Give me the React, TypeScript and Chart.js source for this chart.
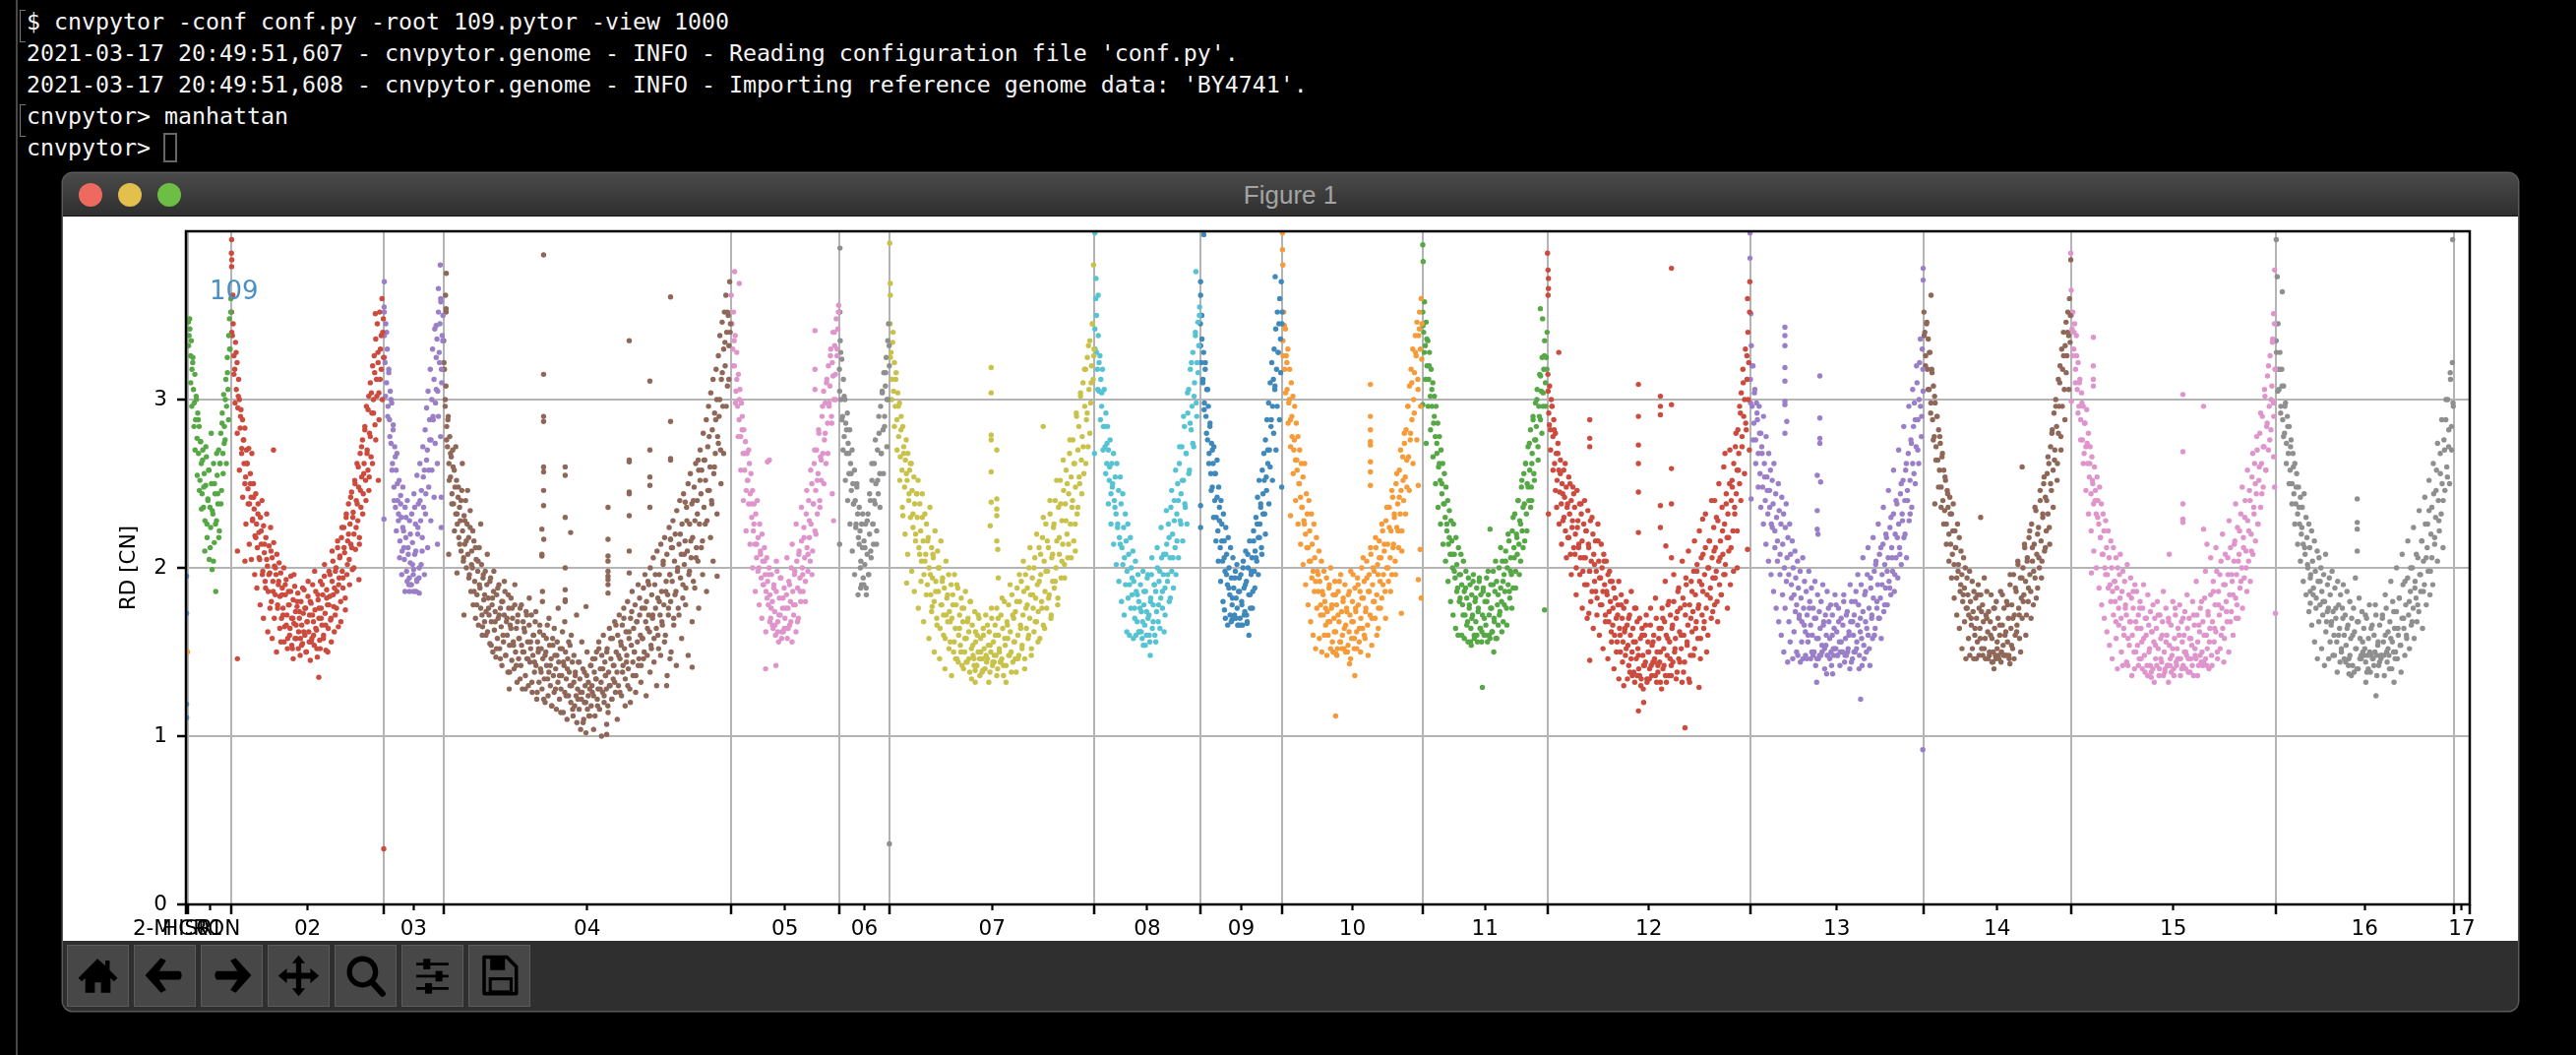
import React, { useEffect, useRef } from "react";
import { Chart, registerables } from "chart.js";
Chart.register(...registerables);

// Chromosomes in plotting order (lengths in kb)
const chromNames = ["2-MICRON","HISR","01","02","03","04","05","06","07","08","09","10","11","12","13","14","15","16","17"];
const chromLengths = [6,5,230,813,316,1531,576,270,1090,562,439,745,666,1078,924,784,1091,948,85];
const chromColors = ["#3f88bb","#f59b3a","#55a845","#cc4a3e","#9a7fc8","#8f6758","#df95cc","#8f8f8f","#c8c24a","#56c3d3","#3f88bb","#f59b3a","#55a845","#cc4a3e","#9a7fc8","#8f6758","#df95cc","#8f8f8f","#c8c24a"];
const yTicks = [0,1,2,3];

// Read-depth (CN x 100) per sampled bin, in genome order
const rd01 = [346,338,342,326,335,318,322,306,298,315,288,300,277,292,268,284,252,275,262,244,270,236,256,228,249,266,218,241,258,205,236,224,250,199,232,262,215,244,186,228,255,238,270,222,262,280,246,292,268,303,284,276,312,296,325,306,338,348,330,360];
const rd02 = [352,338,345,326,318,334,306,322,295,312,300,283,294,271,288,276,262,283,254,270,262,247,271,238,256,242,268,229,250,235,219,244,226,212,238,221,205,230,214,240,198,225,209,192,218,232,201,186,213,197,224,180,206,192,215,201,184,196,208,176,190,203,183,197,170,188,176,200,165,184,193,172,158,186,178,164,195,170,152,181,167,189,174,158,177,185,162,170,148,180,166,155,173,187,160,176,150,168,183,162,172,145,179,158,190,168,154,175,186,163,147,181,170,157,192,176,166,184,160,195,173,151,187,178,164,198,183,169,156,192,204,177,188,172,200,186,212,165,194,207,180,218,198,188,224,209,175,230,196,216,238,205,226,214,245,199,233,220,252,211,240,262,228,248,218,268,236,254,276,244,262,284,252,296,270,258,302,280,310,266,292,320,300,326,285,336,312,345,322,304,352,330,318,360,340,325];
const rd03 = [338,322,345,310,330,296,318,288,305,274,298,262,285,248,272,236,258,268,240,228,252,216,243,230,210,248,222,205,236,218,198,240,212,190,228,203,190,232,215,196,244,208,226,186,255,220,238,200,262,228,246,210,272,236,258,282,244,295,270,305,258,288,318,276,300,330,288,312,342,298,325,336,305,352,328,345,360,318,338,350];
const rd04 = [335,318,296,308,284,272,290,262,278,254,266,244,270,238,258,248,232,252,226,242,218,236,228,210,246,222,204,231,214,240,200,226,208,218,196,224,186,210,200,178,216,192,170,205,184,198,166,212,188,176,202,160,194,181,168,198,174,190,162,182,172,155,194,168,178,150,186,163,174,147,184,158,170,190,152,176,165,142,180,156,172,186,148,168,160,138,176,154,166,182,145,170,156,140,178,150,164,132,172,146,158,176,142,154,128,168,150,162,136,174,146,156,130,166,144,152,172,126,148,160,138,168,142,122,156,150,132,162,140,152,128,146,160,134,120,150,142,166,124,138,154,130,146,118,158,136,126,148,140,116,156,132,144,122,152,128,136,162,114,142,126,150,134,110,146,124,138,154,120,130,144,112,132,118,138,124,108,128,144,116,134,104,122,126,140,110,120,130,102,136,116,124,112,128,142,118,130,146,124,138,112,134,150,122,128,156,116,140,132,148,126,160,120,144,136,128,152,118,138,164,130,146,122,158,134,142,168,126,150,138,160,130,172,146,156,124,166,142,176,152,134,162,148,180,140,158,128,170,154,186,144,164,150,178,136,168,156,190,146,172,160,142,176,158,188,150,196,168,180,148,192,172,162,200,154,184,170,206,158,190,176,164,210,182,152,196,172,214,186,166,202,178,218,160,192,208,184,172,224,196,180,212,192,228,170,204,220,186,234,198,176,214,240,194,208,226,182,244,202,216,188,236,210,250,196,226,256,206,238,218,192,248,228,262,212,240,204,258,226,270,244,258,216,280,236,264,252,288,228,272,296,246,260,304,240,282,312,256,292,268,318,300,278,326,290,338,270,312,346,296,330,352,320,362,340,308,350,332,370,345];
const rd05 = [362,345,330,352,320,338,305,328,296,315,288,306,278,298,290,268,282,258,275,246,268,252,238,262,244,256,230,246,222,238,214,232,206,240,218,200,226,210,194,220,204,190,212,196,186,206,192,178,200,184,170,196,180,164,190,174,160,186,198,168,156,182,172,194,162,176,162,188,170,164,184,158,176,192,166,180,200,156,186,172,196,178,162,204,188,170,210,194,180,216,200,186,224,206,192,232,212,198,240,218,204,226,250,210,238,262,222,246,270,232,256,280,240,266,252,290,268,305,276,298,262,312,286,320,296,308,330,290,322,340,300,332,315,348,326,342,356];
const rd06 = [318,335,300,324,290,312,278,300,286,268,292,274,256,282,262,246,270,250,238,258,240,226,248,232,218,236,222,204,226,212,194,216,202,226,184,208,232,196,220,240,206,252,226,214,262,238,250,222,270,244,280,256,296,268,305,282,316,290,308,325,300,335,345,320];
const rd07 = [345,328,312,334,305,322,296,316,288,304,278,298,266,290,258,284,272,248,264,276,252,268,240,258,230,262,246,224,254,238,216,244,230,252,212,238,222,204,244,216,196,232,208,226,190,218,200,236,184,212,194,206,180,222,192,170,210,186,200,164,216,178,194,172,188,158,204,182,168,196,174,156,190,170,184,150,196,164,178,146,188,160,172,154,182,142,168,176,150,186,158,144,170,162,138,180,152,166,148,146,174,156,142,160,150,170,136,158,146,146,164,152,140,172,144,146,154,162,138,150,170,142,156,148,166,148,176,140,160,152,144,172,146,164,136,180,154,142,168,158,178,148,162,150,184,144,170,156,174,138,188,160,148,180,166,192,154,172,186,146,196,164,178,158,200,170,184,152,194,176,162,206,182,168,190,174,212,158,196,180,218,166,204,186,226,176,198,212,184,232,170,206,192,224,188,240,200,216,178,236,208,252,194,228,214,246,202,238,258,220,206,244,268,226,254,236,276,216,262,248,292,232,270,284,250,302,264,278,310,256,296,318,288,325,272,306,335,298,320,345,312,330];
const rd08 = [342,360,328,318,338,305,326,312,296,318,284,306,272,292,262,284,270,252,276,244,262,250,268,240,254,232,262,226,246,218,254,238,212,244,224,206,232,216,198,226,208,190,218,200,184,210,192,176,204,186,168,196,180,162,190,174,158,198,178,166,186,160,194,170,172,156,182,196,164,178,190,160,186,174,200,168,192,164,182,206,176,196,162,188,208,214,192,226,180,206,236,198,220,188,240,212,196,232,250,206,262,228,244,272,216,252,284,236,268,226,292,306,258,318,282,296,328,272,310,340,298,322,346,332,355];
const rd09 = [345,322,336,310,328,298,318,290,306,276,296,268,284,256,274,248,262,272,240,256,230,264,222,248,236,212,240,226,204,232,216,198,224,208,190,218,200,184,212,194,178,206,188,172,198,182,202,166,186,194,170,196,180,166,204,188,174,210,192,168,200,184,216,176,196,206,186,222,198,210,230,204,242,218,252,226,236,212,258,244,268,232,276,254,288,262,298,270,310,284,322,296,312,330,308,342,318,352,328,345,360,336,370,352];
const rd10 = [335,352,318,342,326,306,330,298,318,288,310,278,302,270,296,264,286,258,278,250,270,242,262,236,254,228,262,220,244,232,212,240,222,204,232,214,198,226,206,192,218,198,186,210,192,178,204,186,172,198,180,166,194,174,160,188,168,200,176,156,184,170,192,162,178,152,186,168,156,196,174,160,182,152,190,166,176,150,184,162,172,198,158,180,168,152,188,174,162,194,178,156,186,170,200,164,182,192,158,176,204,166,186,196,172,208,154,190,180,198,170,212,184,202,176,216,192,206,182,222,196,210,186,228,200,214,192,236,206,222,196,242,214,230,204,250,224,238,212,258,232,246,222,266,240,274,254,282,248,296,266,308,276,318,288,330,300,316,338,326,346,312,338,352,330,360,345];
const rd11 = [352,340,358,332,346,320,335,312,328,302,318,296,310,286,302,278,296,268,286,260,278,252,270,244,262,238,256,230,248,222,240,214,234,208,228,216,200,226,208,194,218,202,188,212,196,182,208,190,178,204,186,172,198,182,168,194,176,190,164,184,172,196,160,180,168,188,156,176,192,164,184,156,172,188,160,180,166,194,156,184,172,158,190,176,162,198,170,186,158,192,178,166,200,174,188,180,204,168,196,186,210,176,200,190,216,182,206,196,222,188,212,232,198,220,208,240,214,228,204,248,222,236,256,216,262,232,250,272,240,258,282,248,268,290,256,276,298,284,306,272,296,315,288,305,325,296,318,335,310,325,340];
const rd12 = [315,292,308,282,300,296,278,288,262,280,268,252,274,258,245,264,238,250,228,258,242,222,248,236,218,254,232,208,240,224,248,212,236,220,200,246,228,214,238,206,232,216,198,226,240,206,222,190,234,212,198,228,204,186,220,208,192,216,198,182,226,204,194,178,214,200,186,208,190,172,204,184,196,168,198,180,162,192,176,188,160,182,170,156,178,192,164,150,184,170,156,176,162,148,180,166,154,142,172,160,186,150,164,138,176,156,146,168,152,140,170,158,134,164,148,142,160,144,172,132,156,150,140,166,142,154,144,160,146,136,170,150,142,158,144,132,164,176,140,152,168,136,160,148,178,136,156,172,142,164,144,180,150,158,170,138,186,146,162,176,152,132,182,160,144,172,190,156,166,134,178,148,192,162,174,198,152,184,168,202,158,178,192,146,206,172,186,164,196,212,176,184,160,200,216,188,170,206,194,224,178,212,198,180,228,204,190,216,184,236,208,196,226,202,244,218,232,210,250,190,240,252,222,262,236,272,244,258,282,268,250,292,304,278,318,290,300,330,282,312,340,322,352];
const rd13 = [312,332,296,320,286,306,276,298,288,268,296,256,280,272,248,290,262,240,278,254,232,268,246,258,226,252,238,262,222,244,230,216,250,234,208,226,242,214,232,200,224,238,206,218,196,226,208,190,216,200,184,210,194,178,204,188,172,198,182,168,206,176,192,162,186,172,156,198,180,166,188,160,176,150,192,170,158,184,146,174,164,180,154,190,168,152,172,160,186,148,168,158,178,142,172,152,164,184,152,162,148,176,156,150,170,150,166,180,144,158,148,174,152,162,140,168,180,146,160,172,150,186,156,166,178,148,162,190,142,174,154,184,168,150,196,160,176,142,188,170,158,182,198,164,204,176,190,170,208,182,158,196,214,174,202,188,218,178,206,192,224,184,212,198,232,186,220,206,238,194,226,212,244,202,232,252,218,240,258,206,246,268,228,252,276,236,262,284,298,250,272,310,288,262,322,296,278,330,305];
const rd14 = [352,340,326,345,318,336,306,328,298,318,288,308,278,298,272,290,264,282,258,274,248,266,240,258,234,252,226,246,236,220,242,214,232,208,238,202,222,212,194,226,202,218,186,210,196,180,206,188,200,176,194,184,172,198,180,166,192,174,186,160,182,170,156,190,176,164,184,152,178,168,194,158,172,186,162,174,150,168,184,158,144,176,164,148,180,152,170,146,160,186,150,166,154,176,148,162,180,156,170,146,190,164,178,152,196,172,160,186,166,204,176,158,194,182,170,200,184,212,192,172,206,180,218,196,186,226,204,178,214,194,234,208,188,224,200,240,216,204,232,250,210,242,222,256,232,262,214,272,246,282,258,292,270,300,284,262,312,296,320,278,330,318,340,306,332,346,326,352,338,360,350];
const rd15 = [365,342,352,330,345,318,338,306,322,296,312,288,304,276,296,268,286,272,294,262,280,254,272,244,266,250,238,260,246,232,254,240,226,248,218,238,208,232,222,200,228,212,196,222,206,190,216,200,186,212,192,180,206,188,200,176,196,208,170,186,198,164,192,178,172,202,158,184,168,194,182,160,176,150,190,168,186,154,172,146,180,164,156,176,190,148,170,160,142,184,166,152,174,138,162,178,156,170,146,164,180,152,136,172,158,144,168,186,150,140,176,160,142,170,154,146,166,148,180,140,158,172,144,152,164,146,178,146,168,156,142,160,174,150,148,164,146,170,138,158,154,180,136,166,148,146,172,156,142,162,176,144,150,168,144,182,146,160,152,172,140,164,184,148,168,192,156,178,162,198,146,186,172,152,204,176,164,190,158,208,180,168,196,150,184,212,174,192,160,204,216,182,196,224,170,208,188,232,200,176,218,194,240,210,186,228,204,246,192,220,254,208,236,262,216,244,270,226,252,280,236,262,290,248,272,302,258,284,314,270,296,326,282,308,336,298,345,318];
const rd16 = [335,318,345,306,328,296,318,288,308,280,298,274,290,268,284,258,276,250,268,244,262,238,256,232,248,226,242,220,236,214,244,208,230,218,200,226,212,196,222,204,188,216,198,182,210,192,206,178,200,186,172,196,180,208,168,190,176,194,184,166,198,174,160,188,170,156,192,178,164,184,150,176,190,160,172,154,186,166,146,180,158,170,142,176,162,194,152,168,140,182,158,148,174,150,164,152,144,170,148,158,178,138,148,166,146,160,150,172,136,154,142,166,148,148,172,156,136,160,176,144,152,148,168,158,140,180,150,164,150,174,146,160,182,154,138,170,190,164,148,178,158,194,172,152,186,166,200,176,158,192,182,168,206,174,196,186,216,164,204,190,226,178,212,198,234,184,220,206,190,244,214,230,258,204,240,222,268,232,250,212,276,246,288,260,300,272,250,312,284,322,296];

// Second sampling of the same chromosomes (the wider scatter round each curve)
const rd01b = [332,348,310,296,325,284,270,302,255,288,246,275,235,264,248,210,272,226,240,258,212,280,234,204,250,226,268,244,218,262,238,286,256,274,300,262,316,288,330,352];
const rd02b = [340,362,315,298,328,280,302,258,290,268,242,276,250,226,262,238,214,250,205,228,242,196,218,188,232,206,178,222,196,170,214,188,205,162,196,176,210,158,186,170,200,150,178,192,164,156,184,172,156,190,166,152,178,160,186,154,170,196,158,166,180,152,174,158,154,188,162,176,150,168,192,156,180,156,172,160,198,164,152,184,176,152,170,190,158,202,166,182,150,178,196,170,210,184,162,198,176,216,190,206,168,224,194,212,182,232,202,220,190,242,212,230,200,250,224,238,260,214,246,272,232,256,282,240,268,294,254,278,304,262,292,316,276,302,328,288,312,338,300,348];
const rd03b = [325,302,340,290,316,278,300,258,282,240,266,222,250,232,206,238,196,224,212,186,230,192,208,194,220,190,202,186,236,210,192,224,194,240,202,218,254,196,232,264,212,248,276,228,258,290,242,274,306,262,290,322,278,310,335];
const rd04b = [322,300,276,288,252,268,238,260,222,272,232,248,214,240,262,206,228,216,246,194,234,202,222,186,212,178,204,190,226,172,196,184,160,208,176,192,154,182,198,168,152,188,172,146,180,160,192,148,170,184,138,164,176,154,190,142,168,158,134,178,150,164,128,172,146,182,156,132,160,144,174,126,152,166,138,180,122,148,158,134,170,142,118,154,164,128,148,176,136,114,152,144,168,124,140,156,130,160,116,148,136,172,122,144,126,156,108,138,120,150,132,112,142,126,104,146,134,118,152,128,100,140,124,136,150,114,130,158,122,142,132,166,110,148,126,154,138,170,118,144,130,162,120,174,136,150,126,168,142,182,132,158,146,176,124,164,190,138,152,172,144,196,130,160,180,148,168,204,156,186,136,176,196,150,212,166,184,142,200,172,220,158,190,208,178,228,148,198,216,168,240,188,206,232,176,252,212,196,264,226,186,246,278,218,238,204,260,288,232,274,300,250,316,268,334,296,352,312,340];
const rd05b = [345,320,335,298,312,278,300,258,282,240,268,222,252,270,214,238,200,226,186,214,198,178,208,170,190,204,162,182,196,168,176,166,188,166,204,162,172,194,158,182,164,176,206,164,190,168,214,178,198,226,168,208,186,236,196,218,180,246,208,228,258,196,238,270,220,252,282,236,264,296,250,280,310,268,298,326,286,314,340,300,330,352];
const rd06b = [305,328,288,270,302,252,282,240,268,226,256,210,238,196,224,250,184,214,200,190,232,190,212,188,228,196,244,210,262,226,240,276,214,252,290,236,268,304,256,284,316,272,300,332];
const rd07b = [325,300,340,284,312,270,296,252,282,236,268,220,256,208,244,262,198,232,186,220,244,176,208,192,230,168,204,184,216,158,196,174,208,150,186,166,200,146,178,192,160,140,172,184,152,168,136,178,156,146,190,144,164,150,176,140,158,144,168,146,180,134,154,142,162,142,172,146,150,138,160,140,148,166,132,154,176,144,144,160,136,170,150,144,182,142,158,132,166,148,190,138,172,156,146,180,146,196,164,152,204,140,176,188,160,212,148,184,200,168,220,156,192,208,176,230,164,198,216,182,240,172,208,226,192,252,182,218,238,204,264,194,228,250,214,276,206,240,262,226,290,236,254,304,244,272,318,262,292,332,280,310,345,326];
const rd08b = [330,350,306,322,288,304,270,284,256,274,238,260,226,248,214,236,202,224,192,214,180,202,172,190,162,182,160,176,194,158,170,160,184,162,176,162,168,186,154,174,196,160,180,206,168,190,156,212,178,198,224,186,208,172,234,196,218,182,246,206,228,258,216,240,272,226,252,290,238,268,304,256,286,322,274,302,338,290,316,350];
const rd09b = [332,350,312,294,322,280,306,262,286,246,270,230,256,216,242,204,228,192,216,180,206,170,196,166,188,172,168,182,170,194,170,176,166,186,166,178,200,172,190,172,208,160,184,198,176,216,188,206,226,196,218,238,208,232,252,220,246,270,238,260,288,252,280,306,270,296,328,288,316,345];
const rd10b = [326,344,304,322,286,300,272,290,256,276,240,264,226,250,214,236,202,226,190,212,178,204,168,194,160,186,152,176,196,158,172,150,184,160,176,148,168,190,152,178,150,162,184,148,172,192,156,152,180,164,150,174,154,186,146,168,196,158,176,152,190,164,150,182,206,160,174,194,148,186,212,170,200,180,218,160,196,206,176,226,190,214,170,236,200,224,186,246,212,232,196,256,222,242,270,210,252,280,232,264,296,246,280,310,262,292,328,276,306,342,296,324];
const rd11b = [344,328,312,336,296,320,282,306,266,290,250,274,236,262,226,250,214,238,204,226,192,218,180,208,172,198,164,186,160,180,196,160,172,158,188,166,156,178,156,170,192,158,182,160,174,194,164,162,186,170,160,180,198,160,176,162,190,168,204,158,184,172,212,162,192,178,204,166,220,186,198,176,230,206,188,218,240,196,226,252,212,238,262,222,248,274,236,262,288,252,276,300,264,290,314,280,304,326,296,318];
const rd12b = [305,285,270,296,258,282,246,236,268,226,256,214,244,230,262,206,238,218,250,196,228,244,208,184,224,212,196,238,176,206,190,222,170,214,198,180,230,164,202,186,172,216,160,194,178,152,204,168,186,146,174,192,156,166,140,182,150,172,134,160,178,144,130,164,152,134,170,138,146,136,156,132,176,136,148,136,130,160,128,142,166,134,150,134,176,136,156,144,182,132,138,164,150,128,170,142,192,132,158,180,146,136,166,196,152,134,174,188,144,160,204,138,178,194,154,210,132,170,186,148,216,164,198,176,222,158,190,208,168,232,150,200,216,182,240,174,210,194,230,168,250,206,184,222,260,196,238,176,218,270,212,248,198,232,280,222,258,296,240,272,310,256,286,326,300,270];
const rd13b = [298,320,276,304,262,292,248,280,236,268,226,254,214,246,204,236,196,224,186,212,176,204,168,196,160,184,150,176,192,144,168,156,182,146,162,174,150,148,170,144,156,146,166,148,146,160,176,146,150,148,170,142,146,158,148,148,150,166,140,154,148,176,146,150,160,148,152,178,148,168,142,156,150,184,148,172,150,160,190,144,168,150,180,152,196,140,170,158,206,146,186,164,212,152,194,172,218,160,202,180,226,170,212,190,236,178,220,198,246,188,230,206,258,196,240,218,270,208,250,228,284,220,262,240,296,232,274,306,256,288,320,270,300,336,290,318];
const rd14b = [338,320,346,306,328,292,316,276,302,264,290,248,278,236,268,226,254,214,244,204,232,194,222,182,212,172,198,164,190,152,184,168,146,176,158,148,170,152,146,164,146,184,148,158,174,148,152,146,170,146,148,160,144,150,176,146,156,148,166,144,184,148,160,148,178,148,196,154,170,146,188,162,202,172,150,194,180,214,160,204,188,222,170,212,198,236,182,220,206,246,194,230,254,212,240,266,224,250,280,236,264,296,252,280,310,270,296,326,288,316,340,306,334];
const rd15b = [350,326,340,310,326,292,310,276,298,262,286,246,274,232,262,222,252,210,240,200,230,188,218,178,208,170,196,162,188,154,180,146,172,192,158,140,166,182,150,142,160,176,144,142,154,168,136,186,140,150,164,142,176,146,140,158,138,170,136,150,142,162,140,132,154,142,172,140,146,160,136,138,156,142,168,142,138,152,136,176,142,146,160,136,140,170,150,140,184,138,158,146,142,172,152,192,136,166,148,180,142,160,198,142,174,156,206,142,186,164,212,150,178,196,160,220,144,190,174,206,228,168,196,184,214,238,178,204,222,192,248,212,230,200,258,222,240,210,268,232,250,278,226,260,292,244,272,306,258,286,320,276,300,334,290,318];
const rd16b = [328,305,318,292,308,278,296,262,284,250,272,238,260,226,248,214,236,204,224,192,212,184,202,174,194,166,184,156,176,146,168,192,152,180,142,162,174,146,156,168,148,148,176,138,160,144,152,170,146,144,164,142,148,136,160,138,152,140,168,146,146,156,148,172,138,140,150,164,146,142,178,148,156,144,146,170,148,184,150,162,140,192,156,174,146,200,164,182,154,208,170,192,160,216,180,200,168,224,188,208,178,234,196,216,186,242,206,226,252,198,236,262,218,246,274,228,256,288,240,270,300,254,282,316,270,298];

// Isolated bins as [kb within chromosome, CN x 100]
const outMicron = [[3,195],[3,173],[3,119],[3,111]];
const outHisr = [[2,150]];
const out02 = [[2,395],[1,387],[3,383],[2,379],[225,270],[33,210],[73,204],[33,146],[330,146],[466,135],[812,33],[680,193],[767,351],[783,252],[733,246]];
const out03 = [[0,229],[2,370],[1,355],[2,352],[300,380],[290,366],[303,358],[278,344],[136,186],[188,185],[175,193],[158,199],[285,214],[305,242],[305,224]];
const out04 = [[534,386],[534,315],[534,290],[534,287],[534,260],[534,257],[534,246],[534,237],[525,223],[535,217],[525,208],[525,207],[528,186],[649,260],[649,255],[649,230],[649,200],[649,187],[649,181],[649,180],[678,221],[877,236],[877,217],[877,207],[877,204],[877,198],[877,195],[877,193],[877,190],[877,185],[990,335],[990,264],[990,263],[990,245],[990,244],[990,231],[990,210],[990,197],[1100,311],[1100,270],[1100,254],[1100,249],[1100,236],[1210,361],[1210,287],[1210,265],[1210,264],[1210,217],[1210,217],[1288,239],[1357,264],[1325,141],[1189,130],[1207,146],[760,177],[1458,195],[870,107],[870,101],[73,197],[110,172],[16,375],[12,362],[15,354],[15,352],[29,208],[209,165],[351,128]];
const out05 = [[448,341],[448,318],[448,306],[20,376],[45,369],[547,228],[540,244],[195,263],[205,264],[185,140],[240,142]];
const out06 = [[5,390],[5,352],[3,214],[268,36],[115,188]];
const out07 = [[0,393],[3,369],[3,362],[540,319],[540,304],[540,279],[540,276],[570,270],[540,257],[570,241],[540,239],[570,235],[570,231],[535,225],[570,216],[575,211],[578,194],[817,284],[70,231],[90,191],[455,132],[455,139],[495,139],[1085,380],[988,210],[226,177]];
const out08 = [[2,399],[8,372],[20,362],[0,268],[540,376],[297,148],[260,154]];
const out09 = [[20,398],[3,370],[3,362],[400,373],[3,237],[3,224],[435,248],[250,167],[130,175],[170,169]];
const out10 = [[0,389],[2,380],[0,399],[468,309],[468,290],[468,282],[468,275],[468,273],[468,263],[468,257],[468,249],[43,231],[283,112],[357,143],[385,136],[285,149],[633,173],[510,164],[723,249],[733,211],[723,193],[738,182]];
const out11 = [[2,392],[4,382],[2,297],[20,274],[319,129],[260,154],[360,223],[380,150],[650,175],[628,354],[640,348],[582,240]];
const out12 = [[0,387],[3,377],[5,372],[5,366],[3,362],[60,328],[5,232],[225,288],[225,277],[225,272],[225,145],[220,173],[484,309],[484,290],[484,273],[484,262],[484,245],[484,221],[484,115],[512,120],[601,302],[601,296],[601,291],[601,237],[601,224],[630,213],[660,378],[660,297],[660,259],[660,238],[660,206],[732,105],[807,129],[1077,370],[1065,360],[1065,211],[1010,200],[945,268],[890,240],[826,229]];
const out13 = [[0,399],[0,384],[5,351],[186,343],[186,338],[186,332],[186,319],[186,311],[186,299],[186,297],[196,287],[186,280],[372,314],[372,289],[372,277],[372,274],[358,255],[376,251],[358,234],[358,223],[362,220],[589,122],[355,132],[408,137],[440,137],[922,378],[922,371],[920,92],[6,241]];
const out14 = [[40,362],[304,230],[525,260],[60,238],[375,140],[460,143],[784,383]];
const out15 = [[0,387],[120,337],[120,320],[120,312],[120,308],[3,299],[597,303],[597,269],[597,238],[597,229],[597,227],[707,296],[707,223],[725,214],[524,208],[880,170],[428,135],[520,132],[1085,377],[1080,351],[1080,266],[1085,248],[1090,173],[110,197],[240,168]];
const out16 = [[3,395],[35,364],[8,373],[942,395],[434,241],[434,227],[434,223],[434,210],[184,186],[184,179],[534,124],[480,132],[630,132],[390,137]];

const binned = [[],[],rd01,rd02,rd03,rd04,rd05,rd06,rd07,rd08,rd09,rd10,rd11,rd12,rd13,rd14,rd15,rd16,[]];
const binnedB = [[],[],rd01b,rd02b,rd03b,rd04b,rd05b,rd06b,rd07b,rd08b,rd09b,rd10b,rd11b,rd12b,rd13b,rd14b,rd15b,rd16b,[]];
const isolated = [outMicron,outHisr,[],out02,out03,out04,out05,out06,out07,out08,out09,out10,out11,out12,out13,out14,out15,out16,[]];

const terminalLines = [
  "$ cnvpytor -conf conf.py -root 109.pytor -view 1000",
  "2021-03-17 20:49:51,607 - cnvpytor.genome - INFO - Reading configuration file 'conf.py'.",
  "2021-03-17 20:49:51,608 - cnvpytor.genome - INFO - Importing reference genome data: 'BY4741'.",
  "cnvpytor> manhattan",
  "cnvpytor> ",
];

const starts: number[] = [];
chromLengths.reduce((acc, l, i) => { starts[i] = acc; return acc + l; }, 0);
const totalKb = chromLengths.reduce((a, b) => a + b, 0);
const centers = chromLengths.map((l, i) => starts[i] + l / 2);
const boundaries = [...starts, totalKb];

const FONT = "'DejaVu Sans', sans-serif";

const framePlugin = {
  id: "frame",
  afterDatasetsDraw(chart: any) {
    const { ctx, chartArea: a } = chart;
    ctx.save();
    ctx.strokeStyle = "#000";
    ctx.lineWidth = 2.5;
    ctx.strokeRect(a.left, a.top, a.right - a.left, a.bottom - a.top);
    ctx.fillStyle = "#4a90c4";
    ctx.font = `26px ${FONT}`;
    ctx.textBaseline = "middle";
    ctx.fillText("109", a.left + 24, a.top + 62);
    ctx.restore();
  },
};

const noPad = (s: any) => { s.paddingTop = 0; s.paddingBottom = 0; s.paddingLeft = 0; s.paddingRight = 0; };

function Btn({ i, children }: { i: number; children: React.ReactNode }) {
  return (
    <div style={{ position: "absolute", left: 4 + i * 68, top: 4, width: 63, height: 63, background: "#474747", border: "1px solid #5c5c5c", boxSizing: "border-box" }}>
      <svg width="61" height="61" viewBox="-4 -4 69 69">{children}</svg>
    </div>
  );
}

export default function App() {
  const ref = useRef<HTMLCanvasElement>(null);
  useEffect(() => {
    const spread = (arr: number[], i: number) => arr.map((v, j) => ({ x: starts[i] + ((j + 0.5) * chromLengths[i]) / arr.length, y: v / 100 }));
    const datasets = chromNames.map((name, i) => {
      const extra = isolated[i].map((p: number[]) => ({ x: starts[i] + p[0], y: p[1] / 100 }));
      return { label: name, data: [...spread(binned[i], i), ...spread(binnedB[i], i), ...extra], backgroundColor: chromColors[i], borderWidth: 0, pointRadius: 2.7, pointHoverRadius: 2.7 };
    });
    const chart = new Chart(ref.current!, {
      type: "scatter",
      data: { datasets },
      plugins: [framePlugin],
      options: {
        animation: false,
        responsive: false,
        devicePixelRatio: 1,
        layout: { padding: { left: 0, right: 49, top: 15, bottom: 0 } },
        plugins: { legend: { display: false }, tooltip: { enabled: false } },
        scales: {
          x: {
            type: "linear",
            min: 0,
            max: totalKb,
            afterBuildTicks: (s: any) => { s.ticks = centers.map((value) => ({ value })); },
            afterFit: (s: any) => { s.height = 37; noPad(s); },
            grid: { drawOnChartArea: false, tickLength: 6, tickColor: "#000", tickWidth: 2.2 },
            border: { display: false },
            ticks: { autoSkip: false, maxRotation: 0, minRotation: 0, padding: 7, color: "#000", font: { family: FONT, size: 21.5 }, callback: (_v: any, i: number) => chromNames[i] },
          },
          xb: {
            type: "linear",
            axis: "x",
            position: { y: 0 },
            min: 0,
            max: totalKb,
            afterBuildTicks: (s: any) => { s.ticks = boundaries.map((value) => ({ value })); },
            afterFit: noPad,
            grid: { color: "#b4b4b4", lineWidth: 2, tickLength: 10, tickColor: "#000", tickWidth: 2.5 },
            border: { display: false },
            ticks: { display: false },
          },
          y: {
            type: "linear",
            min: 0,
            max: 4,
            afterBuildTicks: (s: any) => { s.ticks = yTicks.map((value) => ({ value })); },
            afterFit: (s: any) => { s.width = 124; noPad(s); },
            grid: { color: "#b4b4b4", lineWidth: 2, tickLength: 9, tickColor: "#000", tickWidth: 2.5 },
            border: { display: false },
            title: { display: true, text: "RD [CN]", color: "#000", font: { family: FONT, size: 21.5 }, padding: { top: 54, bottom: 0 } },
            ticks: { padding: 10, color: "#000", font: { family: FONT, size: 21.5 }, callback: (v: any) => String(v) },
          },
        },
      } as any,
    });
    return () => chart.destroy();
  }, []);

  return (
    <div style={{ position: "fixed", left: 0, top: 0, width: 2618, height: 1072, background: "#000", overflow: "hidden" }}>
      <div style={{ position: "absolute", left: 16, top: 0, width: 2, height: 1072, background: "#484848" }} />
      <div style={{ position: "absolute", left: 20, top: 10, width: 5, height: 31, borderLeft: "1px solid #777", borderTop: "1px solid #777", borderBottom: "1px solid #777" }} />
      <div style={{ position: "absolute", left: 20, top: 106, width: 5, height: 31, borderLeft: "1px solid #777", borderTop: "1px solid #777", borderBottom: "1px solid #777" }} />
      {terminalLines.map((line, i) => (
        <div key={i} style={{ position: "absolute", left: 27, top: 6 + i * 32, height: 32, color: "#f4f4f4", font: "23.25px/32px 'DejaVu Sans Mono', monospace", whiteSpace: "pre" }}>{line}</div>
      ))}
      <div style={{ position: "absolute", left: 166, top: 135, width: 14, height: 30, border: "2px solid #666", boxSizing: "border-box" }} />

      <div style={{ position: "absolute", left: 64, top: 176, width: 2495, height: 851, background: "#2f2f2f", borderRadius: 10, overflow: "hidden", boxShadow: "0 0 0 1.5px #5a5a5a" }}>
        <div style={{ position: "absolute", left: 0, top: 0, width: 2495, height: 44, background: "linear-gradient(#4a4a4a, #2f2f2f)", borderBottom: "1px solid #111", boxSizing: "border-box" }}>
          <div style={{ position: "absolute", left: 16, top: 10, width: 24, height: 24, borderRadius: 12, background: "#ee6a5f" }} />
          <div style={{ position: "absolute", left: 56, top: 10, width: 24, height: 24, borderRadius: 12, background: "#e3c04c" }} />
          <div style={{ position: "absolute", left: 96, top: 10, width: 24, height: 24, borderRadius: 12, background: "#6dbe45" }} />
          <div style={{ position: "absolute", left: 0, width: 2495, top: 0, height: 44, textAlign: "center", color: "#a4a4a4", font: "26px/44px 'Liberation Sans', sans-serif" }}>Figure 1</div>
        </div>
        <div style={{ position: "absolute", left: 0, top: 44, width: 2495, height: 736, background: "#fff" }}>
          <canvas ref={ref} width={2494} height={736} style={{ display: "block", marginLeft: 1, width: 2494, height: 736 }} />
        </div>
        <div style={{ position: "absolute", left: 0, top: 780, width: 2495, height: 71, background: "#2f2f2f" }}>
          <Btn i={0}><path d="M30 11 L8 33 L12 37 L16 33 L16 50 L27 50 L27 38 L34 38 L34 50 L45 50 L45 33 L49 37 L53 33 L44 24 L44 13 L39 13 L39 19 Z" fill="#000" /></Btn>
          <Btn i={1}><path d="M26 10 L8 30 L26 50 L32 47 L24 35 L48 35 Q52 30 48 25 L24 25 L32 13 Z" fill="#000" /></Btn>
          <Btn i={2}><path d="M35 10 L53 30 L35 50 L29 47 L37 35 L13 35 Q9 30 13 25 L37 25 L29 13 Z" fill="#000" /></Btn>
          <Btn i={3}><path d="M30.5 7 L38 16 L33.5 16 L33.5 27 L44 27 L44 22 L54 30.5 L44 39 L44 34 L33.5 34 L33.5 45 L38 45 L30.5 54 L23 45 L27.5 45 L27.5 34 L17 34 L17 39 L7 30.5 L17 22 L17 27 L27.5 27 L27.5 16 L23 16 Z" fill="#000" /></Btn>
          <Btn i={4}><circle cx="27" cy="26" r="15" fill="none" stroke="#000" strokeWidth="6" /><path d="M38 38 L50 51" stroke="#000" strokeWidth="7" strokeLinecap="round" /></Btn>
          <Btn i={5}><path d="M12 17 H49 M12 31 H49 M12 45 H49" stroke="#000" strokeWidth="3" /><rect x="20" y="11" width="8" height="12" fill="#000" /><rect x="34" y="25" width="8" height="12" fill="#000" /><rect x="22" y="39" width="8" height="12" fill="#000" /></Btn>
          <Btn i={6}><path d="M13 9 H39 L50 20 V51 H13 Z" fill="none" stroke="#000" strokeWidth="4" strokeLinejoin="round" /><rect x="20" y="9" width="17" height="15" fill="#000" /><rect x="20" y="34" width="24" height="15" fill="none" stroke="#000" strokeWidth="3.5" /></Btn>
        </div>
      </div>
    </div>
  );
}
